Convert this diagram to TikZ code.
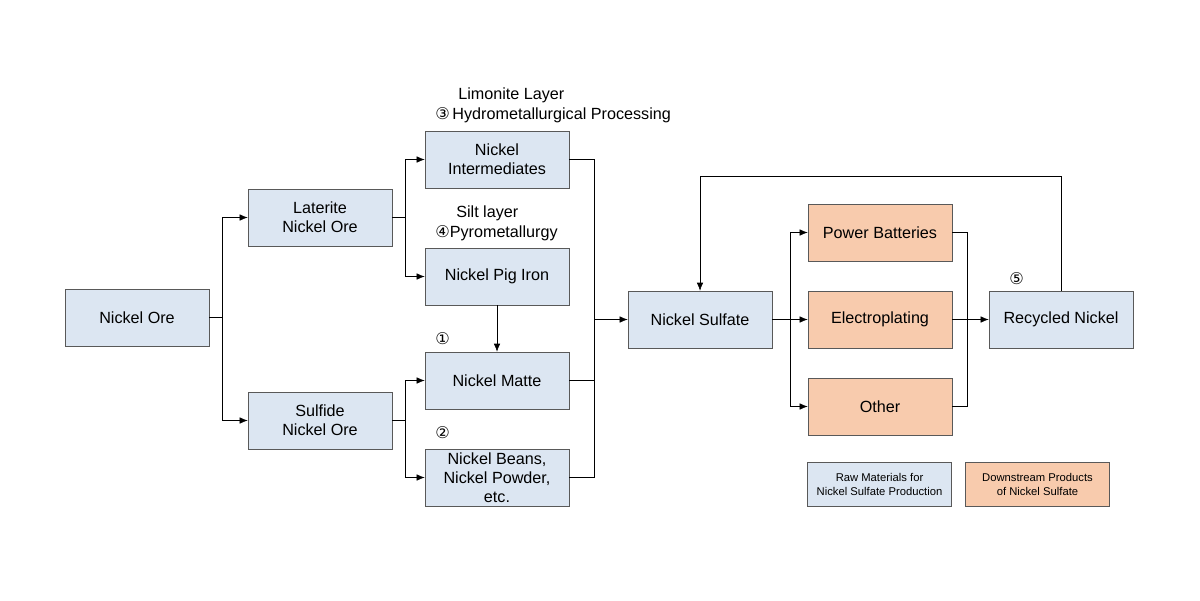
\documentclass[tikz,border=0pt]{standalone}
\usepackage{fontspec}
\setmainfont{Liberation Sans}
\newfontfamily\symfont{DejaVu Sans}
\usetikzlibrary{arrows.meta}
\definecolor{rawblue}{HTML}{DCE6F2}
\definecolor{prodorange}{HTML}{F8CBAD}
\definecolor{edgegray}{HTML}{595959}
\newcommand{\circnum}[1]{{\symfont #1}}
\begin{document}
\begin{tikzpicture}[x=0.025cm, y=-0.025cm, >={Latex[length=2mm,width=1.6mm]},
  every node/.style={font=\fontsize{11.5}{13.5}\selectfont},
  raw/.style={draw=edgegray, fill=rawblue, minimum width=3.6cm, minimum height=1.425cm, align=center, inner sep=1pt},
  prod/.style={raw, fill=prodorange},
  legend/.style={draw=edgegray, minimum width=3.6cm, minimum height=1.1cm, align=center, inner sep=1pt, font=\fontsize{8}{9.5}\selectfont},
  note/.style={anchor=west, inner sep=0pt}]

  \useasboundingbox (0,0) rectangle (1200,600);

  % Raw materials
  \node[raw] (ore) at (137,317.5) {Nickel Ore};
  \node[raw] (lat) at (320,217.5) {Laterite\\Nickel Ore};
  \node[raw] (sul) at (320,420.5) {Sulfide\\Nickel Ore};
  \node[raw] (inter) at (497,159.5) {Nickel\\Intermediates};
  \node[raw] (npi) at (497,276.5) {Nickel Pig Iron};
  \node[raw] (matte) at (497,380.5) {Nickel Matte};
  \node[raw] (beans) at (497,477.5) {Nickel Beans,\\Nickel Powder,\\etc.};
  \node[raw] (sulfate) at (700,319.5) {Nickel Sulfate};
  \node[raw] (recyc) at (1061,319.5) {Recycled Nickel};

  % Downstream products
  \node[prod] (batt) at (880,232.5) {Power Batteries};
  \node[prod] (elec) at (880,319.5) {Electroplating};
  \node[prod] (other) at (880,406.5) {Other};

  % Notes
  \node[note] (n3a) at (458,95) {Limonite Layer};
  \node[note] (n3b) at (435,115) {\circnum{③}\,Hydrometallurgical Processing};
  \node[note] (n4a) at (456,213) {Silt layer};
  \node[note] (n4b) at (435,233) {\circnum{④}Pyrometallurgy};
  \node[note] (n1) at (435,339) {\circnum{①}};
  \node[note] (n2) at (435,433) {\circnum{②}};
  \node[note] (n5) at (1009,279) {\circnum{⑤}};

  % Junctions
  \coordinate (j-ore) at (222,317.5);
  \coordinate (j-lat) at (405,217.5);
  \coordinate (j-sul) at (405,420.5);
  \coordinate (j-mid) at (594,319.5);
  \coordinate (j-sulf) at (790,319.5);
  \coordinate (j-prod) at (967,319.5);
  \coordinate (j-top) at (1061,176);

  % Connecting
  \draw (ore) -- (j-ore);
  \draw[->] (j-ore) |- (lat);
  \draw[->] (j-ore) |- (sul);
  \draw (lat) -- (j-lat);
  \draw[->] (j-lat) |- (inter);
  \draw[->] (j-lat) |- (npi);
  \draw (sul) -- (j-sul);
  \draw[->] (j-sul) |- (matte);
  \draw[->] (j-sul) |- (beans);
  \draw[->] (npi) -- (matte);
  \draw (inter) -| (j-mid);
  \draw (beans) -| (j-mid);
  \draw (matte) -| (j-mid);
  \draw[->] (j-mid) -- (sulfate);
  \draw (sulfate) -- (j-sulf);
  \draw[->] (j-sulf) |- (batt);
  \draw[->] (j-sulf) -- (elec);
  \draw[->] (j-sulf) |- (other);
  \draw (batt) -| (j-prod);
  \draw (other) -| (j-prod);
  \draw[->] (elec) -- (recyc);
  \draw[->] (recyc) -- (j-top) -| (sulfate);

  % Legend
  \node[legend, fill=rawblue] (leg-raw) at (879.5,484.5) {Raw Materials for\\Nickel Sulfate Production};
  \node[legend, fill=prodorange] (leg-prod) at (1037.5,484.5) {Downstream Products\\of Nickel Sulfate};

\end{tikzpicture}
\end{document}
